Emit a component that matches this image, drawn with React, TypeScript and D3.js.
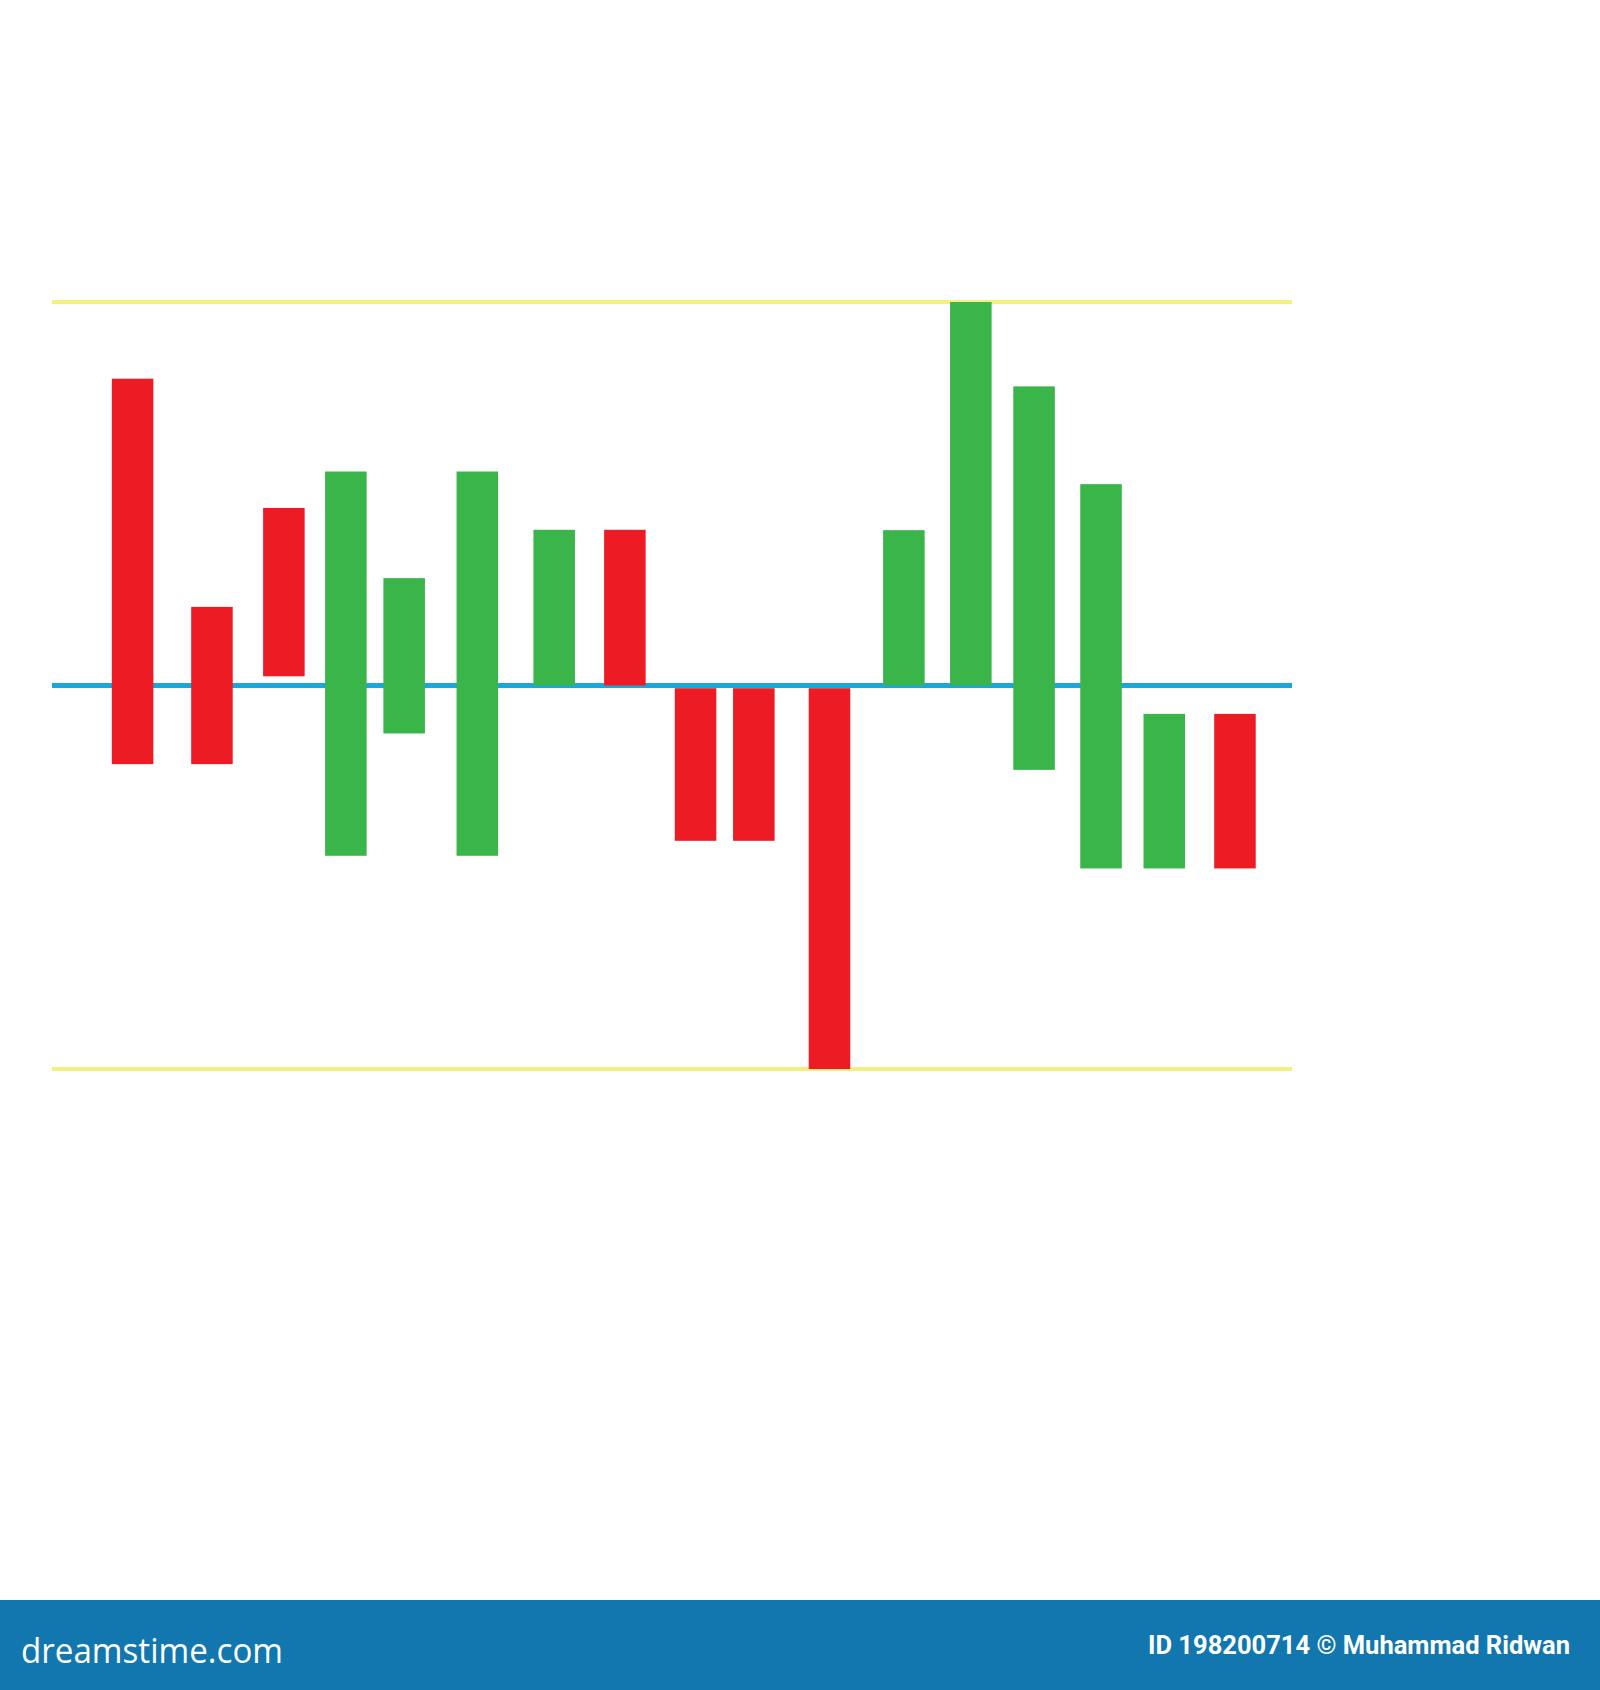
import * as d3 from 'd3'

const WIDTH = 1600
const HEIGHT = 1690

// bar positions along the time axis (0..100), irregular spacing as in the picture
const positions = [6.5, 12.9, 18.7, 23.7, 28.4, 34.3, 40.5, 46.2, 51.9, 56.6, 62.7, 68.7, 74.1, 79.2, 84.6, 89.7, 95.4]
const highs = [80, 20.5, 46.3, 55.8, 28, 55.8, 40.6, 40.6, -0.7, -0.7, -0.7, 40.5, 100, 78, 52.5, -7.4, -7.4]
const lows = [-20.5, -20.5, 2.4, -44.4, -12.5, -44.4, 0, 0, -40.5, -40.5, -100, 0, 0, -22, -47.7, -47.7, -47.7]
const directions = ['down', 'down', 'down', 'up', 'up', 'up', 'up', 'down', 'down', 'down', 'down', 'up', 'up', 'up', 'up', 'up', 'down']

const levels = [100, 0, -100]
const BAR_SPAN = 3.35

const COLORS = { up: '#39b54a', down: '#ed1c24' }

export default function App() {
  const x = d3.scaleLinear().domain([0, 100]).range([52, 1292])
  const y = d3.scaleLinear().domain([-100, 100]).range([1069, 302])
  const barWidth = x(BAR_SPAN) - x(0)

  const bars = positions.map((p, i) => ({
    pos: p,
    hi: highs[i],
    lo: lows[i],
    dir: directions[i] as 'up' | 'down',
  }))

  return (
    <svg
      width={WIDTH}
      height={HEIGHT}
      style={{ display: 'block', position: 'absolute', left: 0, top: 0 }}
    >
      <rect width={WIDTH} height={HEIGHT} fill="#ffffff" />
      {levels.map((lv) => (
        <line
          key={lv}
          x1={x(0)}
          x2={x(100)}
          y1={y(lv)}
          y2={y(lv)}
          stroke={lv === 0 ? '#1ba6de' : '#f3f07e'}
          strokeWidth={lv === 0 ? 5 : 4}
        />
      ))}
      {bars.map((b, i) => (
        <rect
          key={i}
          x={x(b.pos) - barWidth / 2}
          y={y(b.hi)}
          width={barWidth}
          height={y(b.lo) - y(b.hi)}
          fill={COLORS[b.dir]}
        />
      ))}
      <rect x={0} y={1600} width={WIDTH} height={90} fill="#1177ae" />
      <text
        x={21}
        y={1663}
        fill="#ffffff"
        fontFamily="'Open Sans', sans-serif"
        fontSize={34}
        textLength={262}
        lengthAdjust="spacingAndGlyphs"
      >
        dreamstime.com
      </text>
      <text
        x={1570}
        y={1654}
        fill="#ffffff"
        textAnchor="end"
        fontFamily="Roboto, sans-serif"
        fontWeight="bold"
        fontSize={25}
        textLength={422}
        lengthAdjust="spacingAndGlyphs"
      >
        ID 198200714 © Muhammad Ridwan
      </text>
    </svg>
  )
}
